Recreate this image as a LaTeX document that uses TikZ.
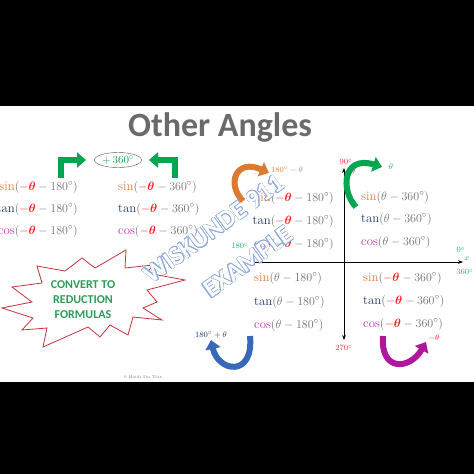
\documentclass[tikz,border=0pt]{standalone}
\usepackage{amsmath,amssymb}
\usepackage{bm}
\usepackage{fontspec}
\newfontfamily\calibri{Carlito}
\usepackage{contour}
\contourlength{0.5pt}
\usetikzlibrary{arrows.meta}
\usetikzlibrary{shapes.geometric}
\usetikzlibrary{positioning}

\definecolor{sincol}{HTML}{E07B39}
\definecolor{tancol}{HTML}{1F3864}
\definecolor{coscol}{HTML}{BF2FB0}
\definecolor{negcol}{HTML}{FF1A1A}
\definecolor{txtgray}{HTML}{6F6F6F}
\definecolor{titlegray}{HTML}{6A6A6A}
\definecolor{arrgreen}{HTML}{00A650}
\definecolor{lblgreen}{HTML}{1FAF5A}
\definecolor{lblred}{HTML}{F0283C}
\definecolor{orangearr}{HTML}{DB7A30}
\definecolor{bluearr}{HTML}{3868B8}
\definecolor{purplearr}{HTML}{B0169B}
\definecolor{starred}{HTML}{C8323C}
\definecolor{stargreen}{HTML}{2E9B58}
\definecolor{wmblue}{HTML}{8EAADC}
\definecolor{ellgray}{HTML}{555555}

\newcommand{\fsin}{{\color{sincol}\mathrm{sin}}}
\newcommand{\ftan}{{\color{tancol}\mathrm{tan}}}
\newcommand{\fcos}{{\color{coscol}\mathrm{cos}}}
\newcommand{\negth}{{\color{negcol}-\bm{\theta}}}

\tikzset{
  formula/.style={font=\fontsize{12.8}{15}\selectfont, inner sep=0pt, text=txtgray},
  small label/.style={font=\fontsize{8}{9}\selectfont, inner sep=0pt},
  fat arrow/.style={line width=6pt, -{Triangle[length=9pt,width=15pt]}},
  axis line/.style={line width=0.9pt},
  title/.style={font=\calibri\bfseries\fontsize{34}{38}\selectfont, text=titlegray},
  watermark/.style={font=\calibri\bfseries\fontsize{26}{28}\selectfont, text=white, inner sep=0pt},
}

\begin{document}
\begin{tikzpicture}[x=1pt,y=-1pt]
  \useasboundingbox (0,0) rectangle (474,474);
  \fill[black] (0,0) rectangle (474,106);
  \fill[black] (0,382) rectangle (474,474);

  \node[title] (title) at (220,127) {Other Angles};

  % adding 360 to the left column
  \node[formula, anchor=east] (c1sin) at (78,187) {$\fsin(\negth-180^\circ)$};
  \node[formula, anchor=east] (c1tan) at (78,209) {$\ftan(\negth-180^\circ)$};
  \node[formula, anchor=east] (c1cos) at (78,231) {$\fcos(\negth-180^\circ)$};
  \node[formula, anchor=west] (c2sin) at (118,187) {$\fsin(\negth-360^\circ)$};
  \node[formula, anchor=west] (c2tan) at (118,209) {$\ftan(\negth-360^\circ)$};
  \node[formula, anchor=west] (c2cos) at (118,231) {$\fcos(\negth-360^\circ)$};

  \node[draw=ellgray, ellipse, inner sep=0pt, minimum width=47pt, minimum height=15pt,
        text=arrgreen, font=\fontsize{11}{12}\selectfont] (plus) at (118,160) {$+\,360^\circ$};

  \coordinate (la1) at (61,178);
  \coordinate (la3) at (86,160);
  \coordinate (ra1) at (175,178);
  \coordinate (ra3) at (149,160);
  \draw[fat arrow, arrgreen] (la1) |- (la3);
  \draw[fat arrow, arrgreen] (ra1) |- (ra3);

  % axes
  \coordinate (xl) at (254,262);
  \coordinate (xr) at (463,262);
  \coordinate (yt) at (344,168);
  \coordinate (yb) at (344,340);
  \draw[axis line, -{Stealth[length=5pt]}] (xl) -- (xr);
  \draw[axis line, {Stealth[length=5pt]}-{Stealth[length=5pt]}] (yb) -- (yt);

  \node[small label, text=lblred] (l90) at (346,162) {$90^\circ$};
  \node[small label, text=lblred] (ly) at (353,172) {$y$};
  \node[small label, text=lblgreen] (lth) at (391,167) {$\theta$};
  \node[small label, text=lblgreen] (l0) at (461,250) {$0^\circ$};
  \node[small label, text=lblgreen] (lx) at (467,259) {$x$};
  \node[small label, text=lblgreen] (l360) at (465,272) {$360^\circ$};
  \node[small label, text=lblgreen] (l180) at (240,246) {$180^\circ$};
  \node[small label, text=lblred] (l270) at (344,348) {$270^\circ$};

  % quadrants
  \node[formula, anchor=east] (q2sin) at (334,198) {$\fsin(\negth-180^\circ)$};
  \node[formula, anchor=east] (q2tan) at (334,221) {$\ftan(\negth-180^\circ)$};
  \node[formula, anchor=east] (q2cos) at (334,244) {$\fcos(\negth-180^\circ)$};
  \node[formula, anchor=west] (q1sin) at (361,197) {$\fsin(\theta-360^\circ)$};
  \node[formula, anchor=west] (q1tan) at (361,219) {$\ftan(\theta-360^\circ)$};
  \node[formula, anchor=west] (q1cos) at (361,242) {$\fcos(\theta-360^\circ)$};
  \node[formula, anchor=west] (q3sin) at (254,278) {$\fsin(\theta-180^\circ)$};
  \node[formula, anchor=west] (q3tan) at (254,302) {$\ftan(\theta-180^\circ)$};
  \node[formula, anchor=west] (q3cos) at (254,325) {$\fcos(\theta-180^\circ)$};
  \node[formula, anchor=west] (q4sin) at (363,278) {$\fsin(\negth-360^\circ)$};
  \node[formula, anchor=west] (q4tan) at (363,301) {$\ftan(\negth-360^\circ)$};
  \node[formula, anchor=west] (q4cos) at (363,324) {$\fcos(\negth-360^\circ)$};

  \node[small label, text=sincol] (q2lbl) at (287,170) {$180^\circ-\theta$};
  \node[small label, text=tancol] (q3lbl) at (211,335) {$180^\circ+\theta$};
  \node[small label, text=negcol] (q4lbl) at (434,338) {$-\theta$};

  % curved arrows
  \coordinate (ob) at (243,201);
  \coordinate (oh) at (269,173);
  \draw[fat arrow, orangearr] (ob) .. controls (226,184) and (236,158) .. (oh);
  \coordinate (gb) at (356,207);
  \coordinate (gh) at (382,167);
  \draw[fat arrow, arrgreen] (gb) .. controls (340,190) and (343,155) .. (gh);
  \coordinate (bt) at (250,336);
  \coordinate (bh) at (211,340);
  \draw[fat arrow, bluearr] (bt) .. controls (254,378) and (218,372) .. (bh);
  \coordinate (pt) at (383,336);
  \coordinate (ph) at (426,342);
  \draw[fat arrow, purplearr] (pt) .. controls (380,372) and (410,370) .. (ph);

  % starburst
  \draw[starred, line width=0.8pt, fill=white, line join=miter]
    (2,308) -- (32,302) -- (12,287) -- (42,283) -- (37,266) -- (65,271)
    -- (82,258) -- (95,268) -- (126,250) -- (125,268) -- (153,265) -- (147,273)
    -- (185,280) -- (147,290) -- (157,302) -- (143,308) -- (162,320) -- (133,317)
    -- (128,335) -- (110,325) -- (100,337) -- (88,327) -- (43,347) -- (47,328)
    -- (22,330) -- (33,318) -- cycle;
  \node[align=center, text=stargreen, inner sep=0pt,
        font=\calibri\bfseries\fontsize{12}{15}\selectfont] (burst) at (83,300)
    {CONVERT TO\\REDUCTION\\FORMULAS};

  \node[font=\fontsize{4}{5}\selectfont, text=txtgray, inner sep=0pt] (copy) at (143,377) {© Heidi Du Toit};

  % watermark
  \node[watermark, rotate=36] (wm1) at (214,229) {\contour{wmblue}{WISKUNDE 911}};
  \node[watermark, rotate=36] (wm2) at (248,262) {\contour{wmblue}{EXAMPLE}};
\end{tikzpicture}
\end{document}
